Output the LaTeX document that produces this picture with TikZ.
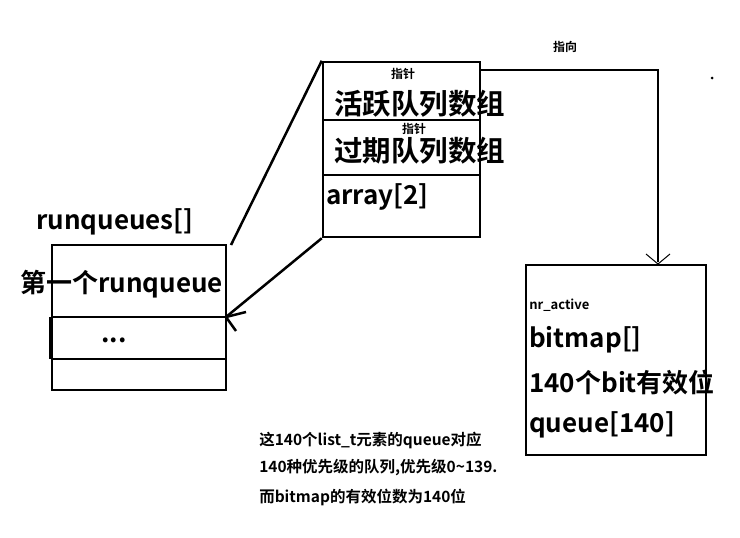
\documentclass[tikz,border=0pt]{standalone}
\usepackage{fontspec}
\setmainfont{Noto Sans CJK SC Bold}
\begin{document}
\begin{tikzpicture}[x=1pt,y=-1pt,line width=2.5pt,
  lab/.style={inner sep=0pt,anchor=west,font=\fontsize{26}{28}\selectfont},
  small/.style={inner sep=0pt,font=\fontsize{12}{13}\selectfont},
  mid/.style={inner sep=0pt,anchor=west,font=\fontsize{15.5}{17}\selectfont}]
\useasboundingbox (0,0) rectangle (740,538);
% left array
\draw (52,245) rectangle (226,390);
\draw (52,317) -- (226,317);
\draw (52,359) -- (226,359);
\draw[line width=4pt] (51,317) -- (51,359);
\node[lab] (rq) at (35,222) {runqueues[]};
\node[lab] (first) at (19,284) {第一个runqueue};
\node[lab] (dots) at (100,340) {...};
% struct
\node[draw,minimum width=157pt,minimum height=58pt,inner sep=0pt] (act) at (401.5,91) {};
\node[draw,minimum width=157pt,minimum height=55pt,inner sep=0pt] (exp) at (401.5,147.5) {};
\node[draw,minimum width=157pt,minimum height=62pt,inner sep=0pt] (arr) at (401.5,206) {};
\node[small] at (403,74) {指针};
\node[lab,font=\fontsize{28.5}{30}\selectfont] at (333,104) {活跃队列数组};
\node[small] at (414,129) {指针};
\node[lab,font=\fontsize{28.5}{30}\selectfont] at (333,151) {过期队列数组};
\node[lab] at (325,197) {array[2]};
\coordinate (c1) at (231,245);
\draw (c1) -- (act.north west);
\draw (arr.south west) -- (226,317);
\draw (226,317) -- (246,312) (226,317) -- (236,331);
% bitmap box
\node[draw,minimum width=180pt,minimum height=190pt,inner sep=0pt] (bm) at (616,360) {};
\coordinate (t1) at (658,70);
\draw (act.east |- t1) -- (t1) -- (658,262);
\draw[line width=1pt] (646,254) -- (658,264) -- (670,254);
\node[small] at (565,47) {指向};
\fill (712,78) circle (1.5pt);
\node[mid,font=\fontsize{13}{14}\selectfont] at (528,305) {nr\_active};
\node[lab] at (528,340) {bitmap[]};
\node[lab] at (528,383) {140个bit有效位};
\node[lab] at (528,425) {queue[140]};
\node[mid] at (258,440) {这140个list\_t元素的queue对应};
\node[mid] at (258,468) {140种优先级的队列,优先级0\textasciitilde139.};
\node[mid] at (258,497) {而bitmap的有效位数为140位};
\end{tikzpicture}
\end{document}
